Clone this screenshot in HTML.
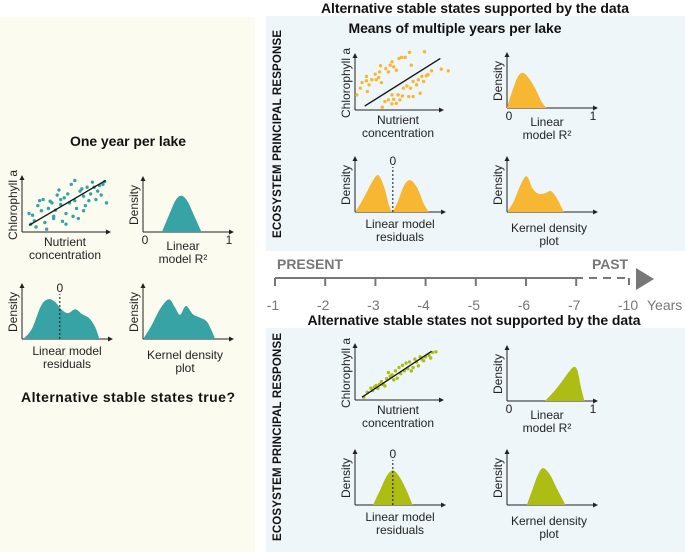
<!DOCTYPE html>
<html><head><meta charset="utf-8">
<style>
html,body{margin:0;padding:0;background:#fff;}
svg{display:block;font-family:"Liberation Sans",sans-serif;}
</style></head>
<body>
<svg id="fig" width="685" height="552" viewBox="0 0 685 552" xmlns="http://www.w3.org/2000/svg">
<rect x="0" y="17" width="255" height="535" fill="#fbfcef"/>
<rect x="266" y="16" width="419" height="235" fill="#eef6fa"/>
<rect x="266" y="328" width="419" height="224" fill="#eef6fa"/>

<text x="128" y="146" text-anchor="middle" font-weight="bold" font-size="14" textLength="116" fill="#111">One year per lake</text>
<text x="128" y="402" text-anchor="middle" font-weight="bold" font-size="14" textLength="214" fill="#111">Alternative stable states true?</text>
<text x="475" y="13" text-anchor="middle" font-weight="bold" font-size="14" textLength="308" fill="#111">Alternative stable states supported by the data</text>
<text x="455" y="33" text-anchor="middle" font-weight="bold" font-size="14" textLength="213" fill="#111">Means of multiple years per lake</text>
<text x="474" y="325" text-anchor="middle" font-weight="bold" font-size="14" textLength="333" fill="#111">Alternative stable states not supported by the data</text>
<text transform="translate(281,134) rotate(-90)" text-anchor="middle" font-weight="bold" font-size="11.5" textLength="208" fill="#111">ECOSYSTEM PRINCIPAL RESPONSE</text>
<text transform="translate(281,437) rotate(-90)" text-anchor="middle" font-weight="bold" font-size="11.5" textLength="208" fill="#111">ECOSYSTEM PRINCIPAL RESPONSE</text>

<g fill="#777" stroke="#777">
  <text x="277" y="269" font-weight="bold" font-size="14" textLength="66" stroke="none">PRESENT</text>
  <text x="592" y="269" font-weight="bold" font-size="14" textLength="36" stroke="none">PAST</text>
  <line x1="275" y1="278" x2="583" y2="278" stroke-width="2"/>
  <line x1="589" y1="278" x2="629" y2="278" stroke-width="2" stroke-dasharray="8,6"/>
  <line x1="629" y1="278" x2="629" y2="285" stroke-width="2"/>
  <polygon points="636,268 654,279 636,290" stroke="none"/>
  <g id="ticks"></g>
  <text x="647" y="310" font-size="14" stroke="none">Years</text>
</g>

<g id="plots"></g>
</svg>
<script>
// ---- data ----
const timelineTicks = ["-1","-2","-3","-4","-5","-6","-7"];

const tealScatterX = [0.1,0.14,0.18,0.12,0.22,0.26,0.3,0.2,0.34,0.36,0.4,0.44,0.28,0.48,0.5,0.52,0.56,0.6,0.62,0.66,0.7,0.74,0.78,0.8,0.84,0.88,0.9,0.94,0.96,0.24,0.38,0.46,0.58,0.68,0.72,0.86,0.16,0.32,0.42,0.54,0.64,0.76,0.82,0.92,0.08,0.5,0.6,0.7,0.36,0.44];
const tealScatterY = [0.14,0.2,0.47,0.3,0.38,0.17,0.42,0.56,0.52,0.28,0.66,0.49,0.05,0.61,0.33,0.68,0.85,0.56,0.42,0.73,0.64,0.8,0.68,0.89,0.58,0.83,0.66,0.9,0.52,0.58,0.39,0.19,0.28,0.77,0.47,0.73,0.09,0.55,0.75,0.52,0.24,0.56,0.8,0.85,0.33,0.14,0.92,0.38,0.24,0.58];
const tealLine = [[0.08,0.12],[0.95,0.92]];
const orangeScatterX = [0.02,0.06,0.08,0.13,0.13,0.14,0.16,0.19,0.23,0.24,0.27,0.28,0.29,0.3,0.35,0.38,0.4,0.42,0.44,0.47,0.5,0.53,0.57,0.62,0.64,0.79,
  0.31,0.34,0.38,0.42,0.44,0.47,0.49,0.51,0.54,0.55,0.59,0.61,0.63,0.66,0.66,0.7,0.72,0.76,0.78,0.81,0.83,0.87,0.98,1.06,0.74,0.42];
const orangeScatterY = [0.27,0.39,0.49,0.6,0.52,0.33,0.45,0.54,0.64,0.54,0.58,0.68,0.79,0.49,0.74,0.68,0.8,0.86,0.77,0.71,0.92,0.94,0.94,1.03,0.8,1.04,
  0.05,0.15,0.18,0.11,0.19,0.12,0.27,0.18,0.25,0.39,0.43,0.24,0.39,0.24,0.51,0.45,0.54,0.6,0.51,0.61,0.63,0.7,0.73,0.7,0.3,0.27];
const orangeLine = [[0.11,0.07],[0.97,0.92]];
const greenScatterX = [0.1,0.14,0.18,0.2,0.24,0.26,0.3,0.32,0.36,0.38,0.42,0.44,0.46,0.5,0.52,0.56,0.58,0.6,0.62,0.66,0.68,0.7,0.74,0.76,0.8,0.84,0.88,0.92,0.34,0.4,0.48,0.54,0.64,0.72,0.22,0.28,0.78,0.86];
const greenScatterY = [0.05,0.14,0.21,0.17,0.26,0.21,0.33,0.28,0.38,0.49,0.45,0.36,0.52,0.58,0.47,0.52,0.66,0.56,0.68,0.58,0.73,0.68,0.77,0.73,0.77,0.8,0.85,0.86,0.25,0.42,0.39,0.62,0.52,0.61,0.23,0.28,0.7,0.75];
const greenLine = [[0.08,0.05],[0.87,0.87]];

const tealR2X = [0.22,0.3,0.38,0.45,0.52,0.6,0.68];
const tealR2Y = [0,0.3,0.58,0.66,0.55,0.28,0];
const tealResX = [0.03,0.12,0.22,0.3,0.38,0.47,0.54,0.62,0.7,0.78,0.85,0.9];
const tealResY = [0.02,0.2,0.6,0.72,0.68,0.52,0.47,0.54,0.45,0.38,0.22,0];
const tealKdeX = [0.01,0.1,0.2,0.3,0.37,0.43,0.5,0.58,0.66,0.75,0.84];
const tealKdeY = [0.02,0.25,0.55,0.72,0.58,0.44,0.6,0.45,0.39,0.3,0];

const orangeR2X = [0,0.06,0.12,0.18,0.25,0.33,0.4,0.46];
const orangeR2Y = [0.02,0.3,0.55,0.64,0.55,0.35,0.12,0];
const orangeResX = [0.01,0.1,0.2,0.27,0.34,0.4,0.44,0.5,0.57,0.64,0.72,0.8,0.86];
const orangeResY = [0.02,0.25,0.55,0.67,0.45,0.1,0.02,0.2,0.48,0.58,0.45,0.15,0];
const orangeKdeX = [0.01,0.08,0.16,0.23,0.3,0.37,0.44,0.51,0.58,0.66];
const orangeKdeY = [0.02,0.2,0.5,0.65,0.42,0.33,0.34,0.38,0.25,0];

const greenR2X = [0.44,0.55,0.65,0.73,0.78,0.82,0.86,0.9];
const greenR2Y = [0,0.18,0.38,0.55,0.62,0.55,0.25,0];
const greenResX = [0.21,0.3,0.37,0.44,0.51,0.59,0.67];
const greenResY = [0,0.3,0.53,0.63,0.53,0.3,0];
const greenKdeX = [0.23,0.3,0.36,0.42,0.5,0.58,0.68];
const greenKdeY = [0,0.3,0.55,0.67,0.55,0.3,0];

const residualZero = 0.44;

// ---- drawing ----
const NS = "http://www.w3.org/2000/svg";
const root = document.getElementById('plots');
function mk(tag, attrs, parent){
  const e = document.createElementNS(NS, tag);
  for (const k in attrs) e.setAttribute(k, attrs[k]);
  (parent||root).appendChild(e);
  return e;
}
function txt(str, x, y, opts, parent){
  const t = mk('text', Object.assign({x:x, y:y, 'font-size':12, fill:'#222', 'text-anchor':'middle'}, opts||{}), parent);
  t.textContent = str;
  return t;
}

const tg = document.getElementById('ticks');
timelineTicks.forEach((lab,i)=>{
  const x = 275 + i*50.2;
  const l = mk('line',{x1:x,y1:278,x2:x,y2:286,'stroke-width':2},tg);
  
  
  const t = txt(lab, x-2, 310, {'font-size':14, fill:'#777', stroke:'none'}, tg);
  
  
});
{
  const t = txt("-10", 628, 310, {'font-size':14, fill:'#777', stroke:'none'}, tg);
  
  
}

function axes(g, x0, yb, w, h){
  mk('line',{x1:x0,y1:yb,x2:x0,y2:yb-h+3,stroke:'#222','stroke-width':1},g);
  mk('polygon',{points:`${x0-2.5},${yb-h+4} ${x0},${yb-h-1} ${x0+2.5},${yb-h+4}`,fill:'#222'},g);
  mk('line',{x1:x0,y1:yb,x2:x0+w-3,y2:yb,stroke:'#222','stroke-width':1},g);
  mk('polygon',{points:`${x0+w-4},${yb-2.5} ${x0+w+1},${yb} ${x0+w-4},${yb+2.5}`,fill:'#222'},g);
}
function sx(x0,w,v){return x0 + v*w;}
function sy(yb,h,v){return yb - v*h;}

function densityPath(xs, ys, x0, yb, w, h){
  const pts = xs.map((v,i)=>[sx(x0,w,v), sy(yb,h,ys[i])]);
  let d = `M${pts[0][0]},${yb} L${pts[0][0]},${pts[0][1]}`;
  for (let i=0;i<pts.length-1;i++){
    const p0 = pts[Math.max(0,i-1)], p1 = pts[i], p2 = pts[i+1], p3 = pts[Math.min(pts.length-1,i+2)];
    const c1x = p1[0]+(p2[0]-p0[0])/6, c1y = Math.min(yb, p1[1]+(p2[1]-p0[1])/6);
    const c2x = p2[0]-(p3[0]-p1[0])/6, c2y = Math.min(yb, p2[1]-(p3[1]-p1[1])/6);
    d += ` C${c1x},${c1y} ${c2x},${c2y} ${p2[0]},${p2[1]}`;
  }
  d += ` L${pts[pts.length-1][0]},${yb} Z`;
  return d;
}

function scatterPlot(name, x0, yb, color, xs, ys, line){
  const g = mk('g',{});
  
  
  const w = 88, h = 56;
  axes(g, x0, yb, w, h);
  xs.forEach((v,i)=>{
    const c = mk('circle',{cx:sx(x0,w,v), cy:sy(yb,h,ys[i]), r:1.7, fill:color},g);
    
    
  });
  const l = mk('line',{x1:sx(x0,w,line[0][0]),y1:sy(yb,h,line[0][1]),x2:sx(x0,w,line[1][0]),y2:sy(yb,h,line[1][1]),stroke:'#111','stroke-width':1.3},g);
  
  
  const t = txt('Chlorophyll a', 0, 0, {transform:`translate(${x0-5},${yb-27}) rotate(-90)`}, g);
  
  
  const a = txt('Nutrient', x0+43, yb+14, {}, g);
  
  
  txt('concentration', x0+43, yb+27, {}, g);
}

function densityPlot(name, x0, yb, color, xs, ys, kind){
  const g = mk('g',{});
  
  
  const w = 90, h = 55;
  axes(g, x0, yb, w, h);
  const p = mk('path',{d:densityPath(xs, ys, x0, yb, w-4, h), fill:color},g);
  
  
  const dl = txt('Density', 0, 0, {transform:`translate(${x0-5},${yb-27}) rotate(-90)`}, g);
  
  
  if (kind==='r2'){
    txt('0', x0+2, yb+12, {}, g);
    txt('1', x0+86, yb+12, {}, g);
    const a = txt('Linear', x0+40, yb+18, {}, g);
    
    
    txt('model R²', x0+40, yb+31, {}, g);
  } else if (kind==='res'){
    const zx = sx(x0, w-4, residualZero);
    const z = mk('line',{x1:zx,y1:yb,x2:zx,y2:yb-h+10,stroke:'#111','stroke-width':1,'stroke-dasharray':'2,2'},g);
    
    
    txt('0', zx, yb-h+8, {}, g);
    const a = txt('Linear model', x0+45, yb+16, {}, g);
    
    
    txt('residuals', x0+45, yb+29, {}, g);
  } else {
    const a = txt('Kernel density', x0+42, yb+20, {}, g);
    
    
    txt('plot', x0+42, yb+33, {}, g);
  }
}

const TEAL='#38a3a5', ORANGE='#f7b733', GREEN='#adbd14';
scatterPlot('teal-scatter', 22, 232, TEAL, tealScatterX, tealScatterY, tealLine);
densityPlot('teal-r2-density', 143, 232, TEAL, tealR2X, tealR2Y, 'r2');
densityPlot('teal-residual-density', 22, 339, TEAL, tealResX, tealResY, 'res');
densityPlot('teal-kde', 143, 339, TEAL, tealKdeX, tealKdeY, 'kde');
scatterPlot('orange-scatter', 355, 110, ORANGE, orangeScatterX, orangeScatterY, orangeLine);
densityPlot('orange-r2-density', 507, 108, ORANGE, orangeR2X, orangeR2Y, 'r2');
densityPlot('orange-residual-density', 355, 212, ORANGE, orangeResX, orangeResY, 'res');
densityPlot('orange-kde', 507, 212, ORANGE, orangeKdeX, orangeKdeY, 'kde');
scatterPlot('green-scatter', 355, 400, GREEN, greenScatterX, greenScatterY, greenLine);
densityPlot('green-r2-density', 507, 401, GREEN, greenR2X, greenR2Y, 'r2');
densityPlot('green-residual-density', 355, 505, GREEN, greenResX, greenResY, 'res');
densityPlot('green-kde', 507, 505, GREEN, greenKdeX, greenKdeY, 'kde');
</script>
</body></html>
